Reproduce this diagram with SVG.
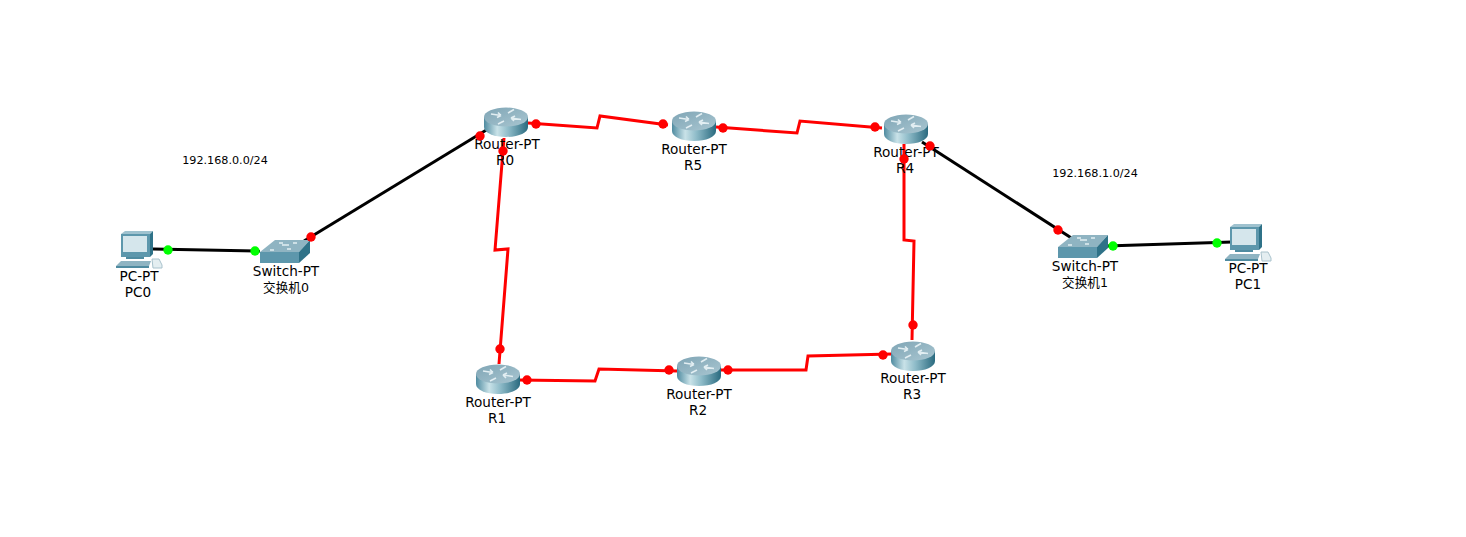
<svg xmlns="http://www.w3.org/2000/svg" width="1466" height="537" viewBox="0 0 1466 537">
<style>
text{font-family:"DejaVu Sans","Noto Sans CJK SC",sans-serif;font-size:13.6px;fill:#000;text-anchor:middle}
text.net{font-size:11.2px}
text.cjk{font-size:12.6px}
.eth{fill:none;stroke:#000;stroke-width:3}
.ser{fill:none;stroke:#f00;stroke-width:3}
.r{fill:#f00}.g{fill:#0f0}
</style>
<defs>
<linearGradient id="rb" x1="0" x2="1" y1="0" y2="0"><stop offset="0" stop-color="#4f8ba0"/><stop offset=".3" stop-color="#c9e2e8"/><stop offset=".55" stop-color="#8fbcc9"/><stop offset="1" stop-color="#2a6a7f"/></linearGradient>
<linearGradient id="rt" x1="0" x2="1" y1="0" y2="1"><stop offset="0" stop-color="#7fa5b5"/><stop offset="1" stop-color="#a9c6d1"/></linearGradient>
<g id="router">
<path d="M-22-5V5C-22 11-12 15 0 15S22 11 22 5V-5Z" fill="url(#rb)"/>
<ellipse cx="0" cy="-5" rx="22" ry="9.5" fill="url(#rt)"/>
<path d="M-15-8-5-6.5M-5-6.5-8-9.5M-5-6.5-9-4.5M15-2.5 5-4M5-4 8-1M5-4 9-6M-2-1-8 2M2-9 8-12.5" fill="none" stroke="#e2eef2" stroke-width="1.6"/>
</g>
<g id="switch">
<path d="M-25 0-10-12H25L14 0Z" fill="#8fb4c2"/>
<path d="M-25 0H14V11H-25Z" fill="#5d97ac"/>
<path d="M14 0 25-12V1L14 11Z" fill="#2f7288"/>
<path d="M-15-2h4M-6-9h4M8-9h4M2-3h4M-3-7h7" stroke="#e2eef2" stroke-width="1.6"/>
</g>
<g id="pc">
<path d="M-14-16-10-19H18L15-16Z" fill="#9fc2cf"/>
<path d="M15-16 18-19V4L15 7Z" fill="#2f7288"/>
<path d="M-14-16H15V7H-14Z" fill="#5d97ac"/>
<path d="M-12-14H12V2H-12Z" fill="#d5e6ec"/>
<path d="M-9 7H9V9H-9Z" fill="#4f8ba0"/>
<path d="M-19 16-14 11H16L14 16Z" fill="#8fb4c2"/>
<path d="M-19 16H14V18H-19Z" fill="#4f8ba0"/>
<path d="M17 9h7l3 6v3h-9Z" fill="#e4eef1" stroke="#a9c2cc" stroke-width="1"/>
</g>
</defs>
<g id="connectors">
<path class="eth" d="M153 249 260 251"/>
<path class="eth" d="M304 241 488 129"/>
<path class="eth" d="M922 142 1073 239"/>
<path class="eth" d="M1106 246 1232 242"/>
<path class="ser" d="M528 123 597 128 600 116 668 125"/>
<path class="ser" d="M716 127 797 133 800 121 882 128"/>
<path class="ser" d="M504 138 495 250 508 249 499 364"/>
<path class="ser" d="M904 144 904 240 914 241 912 340"/>
<path class="ser" d="M518 380 595 381 599 369 677 371"/>
<path class="ser" d="M720 370 806 370 808 356 892 354"/>
</g>
<g id="PC0"><use href="#pc" x="135" y="250"/><text x="139" y="281">PC-PT</text><text x="138" y="297">PC0</text></g>
<g id="switch0"><use href="#switch" x="285" y="252"/><text x="286" y="276">Switch-PT</text><text class="cjk" x="286" y="292">交换机0</text></g>
<g id="R0"><use href="#router" x="506" y="122"/><text x="507" y="149">Router-PT</text><text x="505" y="165">R0</text></g>
<g id="R5"><use href="#router" x="694" y="126"/><text x="694" y="154">Router-PT</text><text x="693" y="170">R5</text></g>
<g id="R4"><use href="#router" x="906" y="129"/><text x="906" y="157">Router-PT</text><text x="905" y="173">R4</text></g>
<g id="R1"><use href="#router" x="498" y="379"/><text x="498" y="407">Router-PT</text><text x="497" y="423">R1</text></g>
<g id="R2"><use href="#router" x="699" y="371"/><text x="699" y="399">Router-PT</text><text x="698" y="415">R2</text></g>
<g id="R3"><use href="#router" x="913" y="356"/><text x="913" y="383">Router-PT</text><text x="912" y="399">R3</text></g>
<g id="switch1"><use href="#switch" x="1083" y="247"/><text x="1085" y="271">Switch-PT</text><text class="cjk" x="1085" y="287">交换机1</text></g>
<g id="PC1"><use href="#pc" x="1244" y="243"/><text x="1248" y="273">PC-PT</text><text x="1248" y="289">PC1</text></g>
<g id="labels"><text class="net" x="225" y="164">192.168.0.0/24</text><text class="net" x="1095" y="177">192.168.1.0/24</text></g>
<g id="ports">
<circle class="g" cx="168" cy="250" r="4.7"/><circle class="g" cx="255" cy="251" r="4.7"/>
<circle class="r" cx="311" cy="237" r="4.7"/><circle class="r" cx="480" cy="136" r="4.7"/>
<circle class="r" cx="536" cy="124" r="4.7"/><circle class="r" cx="663" cy="124" r="4.7"/>
<circle class="r" cx="723" cy="128" r="4.7"/><circle class="r" cx="875" cy="127" r="4.7"/>
<circle class="r" cx="503" cy="151" r="4.7"/><circle class="r" cx="500" cy="349" r="4.7"/>
<circle class="r" cx="904" cy="159" r="4.7"/><circle class="r" cx="913" cy="325" r="4.7"/>
<circle class="r" cx="930" cy="146" r="4.7"/><circle class="r" cx="1058" cy="230" r="4.7"/>
<circle class="g" cx="1113" cy="246" r="4.7"/><circle class="g" cx="1217" cy="243" r="4.7"/>
<circle class="r" cx="527" cy="380" r="4.7"/><circle class="r" cx="669" cy="370" r="4.7"/>
<circle class="r" cx="728" cy="370" r="4.7"/><circle class="r" cx="883" cy="355" r="4.7"/>
</g>
</svg>
